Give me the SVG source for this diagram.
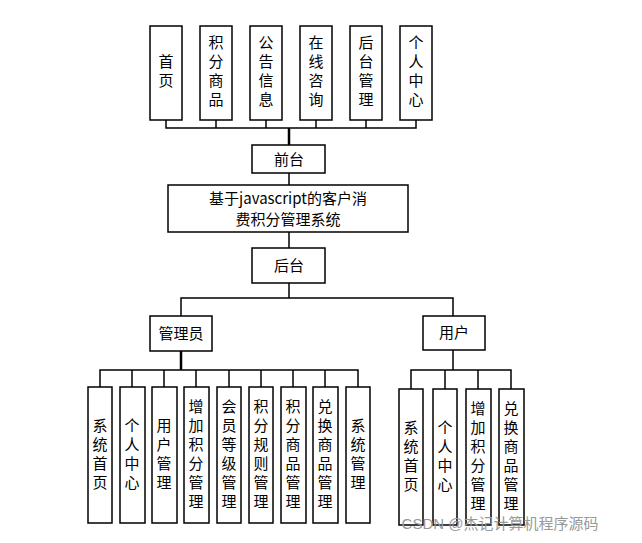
<svg xmlns="http://www.w3.org/2000/svg" width="642" height="543" viewBox="0 0 642 543">
<style>
rect{fill:#fff;stroke:#000;stroke-width:1.5}
text{font-family:"SimSun","Noto Sans CJK SC",sans-serif;font-size:15px;text-anchor:middle;fill:#000}
.c line,.c polyline{stroke:#000;stroke-width:1.5;fill:none}
</style>
<rect x="0" y="0" width="642" height="543" style="stroke:none"/>
<g class="c">
<polyline points="166,120 166,128 416,128 416,120"/>
<line x1="216" y1="120" x2="216" y2="128"/><line x1="266" y1="120" x2="266" y2="128"/>
<line x1="316" y1="120" x2="316" y2="128"/><line x1="366" y1="120" x2="366" y2="128"/>
<line x1="289" y1="128" x2="289" y2="145" style="stroke-width:2.5"/>
<line x1="289" y1="173" x2="289" y2="185"/>
<line x1="289" y1="232" x2="289" y2="248"/>
<line x1="289" y1="283" x2="289" y2="298"/>
<polyline points="181,316 181,298 453,298 453,316"/>
<line x1="181" y1="351" x2="181" y2="370" style="stroke-width:2.5"/>
<polyline points="100,387 100,370 358,370 358,387"/>
<line x1="132" y1="370" x2="132" y2="387"/><line x1="164" y1="370" x2="164" y2="387"/>
<line x1="196" y1="370" x2="196" y2="387"/><line x1="229" y1="370" x2="229" y2="387"/>
<line x1="261" y1="370" x2="261" y2="387"/><line x1="293" y1="370" x2="293" y2="387"/>
<line x1="325" y1="370" x2="325" y2="387"/>
<line x1="453" y1="350" x2="453" y2="370"/>
<polyline points="411,389 411,370 511,370 511,389"/>
<line x1="445" y1="370" x2="445" y2="389"/><line x1="478" y1="370" x2="478" y2="389"/>
</g>
<g id="t1"><rect x="150" y="26" width="32" height="94"/><text x="166" y="67">首</text><text x="166" y="86">页</text></g>
<g id="t2"><rect x="200" y="26" width="32" height="94"/><text x="216" y="48">积</text><text x="216" y="67">分</text><text x="216" y="86">商</text><text x="216" y="105">品</text></g>
<g id="t3"><rect x="250" y="26" width="32" height="94"/><text x="266" y="48">公</text><text x="266" y="67">告</text><text x="266" y="86">信</text><text x="266" y="105">息</text></g>
<g id="t4"><rect x="300" y="26" width="32" height="94"/><text x="316" y="48">在</text><text x="316" y="67">线</text><text x="316" y="86">咨</text><text x="316" y="105">询</text></g>
<g id="t5"><rect x="350" y="26" width="32" height="94"/><text x="366" y="48">后</text><text x="366" y="67">台</text><text x="366" y="86">管</text><text x="366" y="105">理</text></g>
<g id="t6"><rect x="400" y="26" width="32" height="94"/><text x="416" y="48">个</text><text x="416" y="67">人</text><text x="416" y="86">中</text><text x="416" y="105">心</text></g>
<g id="front"><rect x="252" y="145" width="73" height="28"/><text x="289" y="165">前台</text></g>
<g id="main"><rect x="168" y="185" width="240" height="47"/><text x="288" y="204">基于javascript的客户消</text><text x="288" y="225">费积分管理系统</text></g>
<g id="back"><rect x="252" y="248" width="73" height="35"/><text x="289" y="271">后台</text></g>
<g id="admin"><rect x="150" y="316" width="62" height="35"/><text x="181" y="339">管理员</text></g>
<g id="user"><rect x="423" y="316" width="62" height="34"/><text x="454" y="338">用户</text></g>
<g id="a1"><rect x="88" y="387" width="24" height="136"/><text x="100" y="431">系</text><text x="100" y="450">统</text><text x="100" y="469">首</text><text x="100" y="488">页</text></g>
<g id="a2"><rect x="120" y="387" width="25" height="136"/><text x="132" y="431">个</text><text x="132" y="450">人</text><text x="132" y="469">中</text><text x="132" y="488">心</text></g>
<g id="a3"><rect x="152" y="387" width="25" height="136"/><text x="164" y="431">用</text><text x="164" y="450">户</text><text x="164" y="469">管</text><text x="164" y="488">理</text></g>
<g id="a4"><rect x="184" y="387" width="25" height="136"/><text x="196" y="412">增</text><text x="196" y="431">加</text><text x="196" y="450">积</text><text x="196" y="469">分</text><text x="196" y="488">管</text><text x="196" y="507">理</text></g>
<g id="a5"><rect x="217" y="387" width="24" height="136"/><text x="229" y="412">会</text><text x="229" y="431">员</text><text x="229" y="450">等</text><text x="229" y="469">级</text><text x="229" y="488">管</text><text x="229" y="507">理</text></g>
<g id="a6"><rect x="249" y="387" width="24" height="136"/><text x="261" y="412">积</text><text x="261" y="431">分</text><text x="261" y="450">规</text><text x="261" y="469">则</text><text x="261" y="488">管</text><text x="261" y="507">理</text></g>
<g id="a7"><rect x="281" y="387" width="25" height="136"/><text x="293" y="412">积</text><text x="293" y="431">分</text><text x="293" y="450">商</text><text x="293" y="469">品</text><text x="293" y="488">管</text><text x="293" y="507">理</text></g>
<g id="a8"><rect x="313" y="387" width="25" height="136"/><text x="325" y="412">兑</text><text x="325" y="431">换</text><text x="325" y="450">商</text><text x="325" y="469">品</text><text x="325" y="488">管</text><text x="325" y="507">理</text></g>
<g id="a9"><rect x="346" y="387" width="24" height="136"/><text x="358" y="431">系</text><text x="358" y="450">统</text><text x="358" y="469">管</text><text x="358" y="488">理</text></g>
<g id="u1"><rect x="399" y="389" width="24" height="136"/><text x="411" y="433">系</text><text x="411" y="452">统</text><text x="411" y="471">首</text><text x="411" y="490">页</text></g>
<g id="u2"><rect x="433" y="389" width="24" height="136"/><text x="445" y="433">个</text><text x="445" y="452">人</text><text x="445" y="471">中</text><text x="445" y="490">心</text></g>
<g id="u3"><rect x="466" y="389" width="25" height="136"/><text x="478" y="414">增</text><text x="478" y="433">加</text><text x="478" y="452">积</text><text x="478" y="471">分</text><text x="478" y="490">管</text><text x="478" y="509">理</text></g>
<g id="u4"><rect x="499" y="389" width="25" height="136"/><text x="511" y="414">兑</text><text x="511" y="433">换</text><text x="511" y="452">商</text><text x="511" y="471">品</text><text x="511" y="490">管</text><text x="511" y="509">理</text></g>
<text x="500" y="529" style="font-size:15px;fill:#999;font-family:'Liberation Sans','Noto Sans CJK SC',sans-serif">CSDN @杰记计算机程序源码</text>
</svg>
